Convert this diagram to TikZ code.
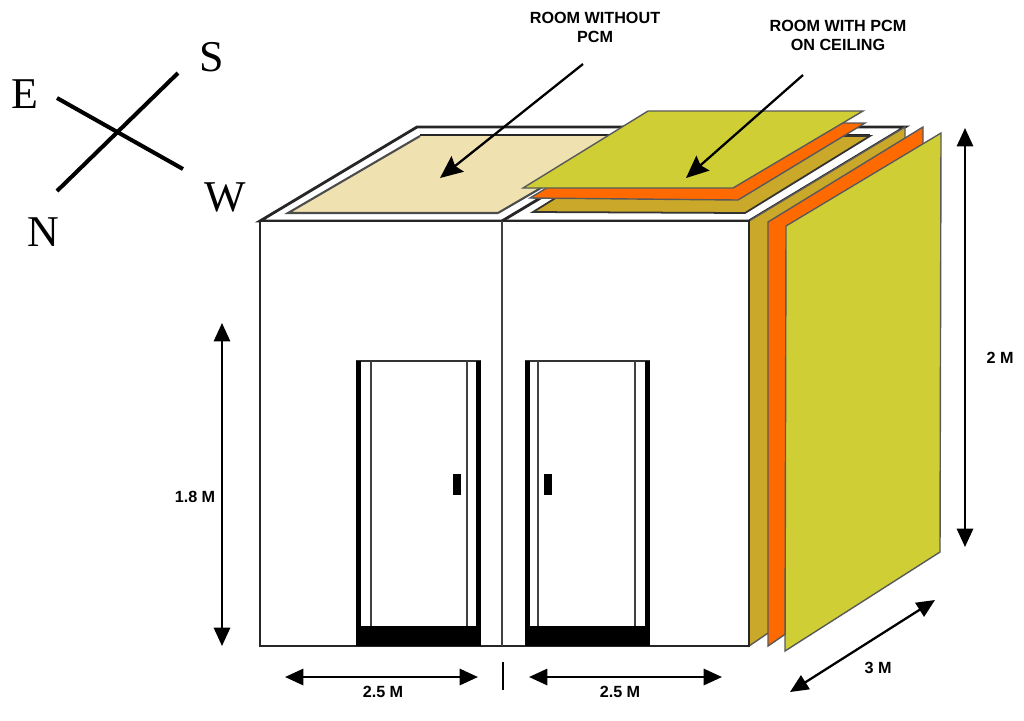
\documentclass[tikz,border=0pt]{standalone}
\usepackage{fontspec}
\usepackage{tikz}
\usepackage{xcolor}
\usetikzlibrary{arrows.meta}
\setmainfont{Liberation Serif}
\setsansfont{Liberation Sans}
\definecolor{roofTan}{HTML}{F0E2B0}
\definecolor{layerGreen}{HTML}{CFCF35}
\definecolor{layerOrange}{HTML}{FF6A00}
\definecolor{layerGold}{HTML}{C9A82A}
\tikzset{
    wall/.style={draw=black!85, line width=0.8pt, fill=white},
    layer/.style={draw=black!65, line width=0.4pt},
    dimline/.style={{Triangle[length=5.2pt,width=4.6pt]}-{Triangle[length=5.2pt,width=4.6pt]}, line width=0.65pt},
    leader/.style={-{Stealth[length=6.4pt,width=5.6pt,inset=0.9pt]}, line width=0.65pt},
    dimlabel/.style={font=\sffamily\bfseries\fontsize{4.6}{5}\selectfont, inner sep=0pt},
    roomlabel/.style={font=\sffamily\bfseries\fontsize{4.6}{5.4}\selectfont, inner sep=0pt, align=center},
    compasslabel/.style={font=\fontsize{12.5}{14}\selectfont, inner sep=0pt}
}
\begin{document}
\begin{tikzpicture}[x=0.01cm, y=-0.01cm]
    \useasboundingbox (0,0) rectangle (1024,720);

    % Compass
    \draw[line width=1.15pt] (57,98) -- (183,169);
    \draw[line width=1.15pt] (57,191) -- (178,73);
    \node[compasslabel] (labelE) at (25,94) {E};
    \node[compasslabel] (labelS) at (212,57) {S};
    \node[compasslabel] (labelW) at (225,197) {W};
    \node[compasslabel] (labelN) at (43,232) {N};

    % Roof outline and inner rims
    \draw[wall] (260,221) -- (417,127) -- (905,127) -- (749,221) -- cycle;
    \draw[wall] (502,221) -- (659,127);
    \draw[draw=black!85, line width=0.7pt] (420,135.5) -- (870,135.5);

    % Room without PCM
    \fill[roofTan] (288,213) -- (420,136) -- (630,136) -- (498,213) -- cycle;
    \draw[draw=black!70, line width=0.6pt] (498,213) -- (288,213) -- (420,136);
    \draw[draw=black!70, line width=0.6pt] (498,213) -- (630,136);

    % Side layers (east wall)
    \draw[layer, fill=layerGold] (749,221) -- (905,127) -- (905,540) -- (749,646) -- cycle;
    \draw[layer, fill=layerOrange] (768,222) -- (923,127) -- (923,540) -- (768,646) -- cycle;
    \draw[layer, fill=layerGreen] (786,226) -- (941,133) -- (940,552) -- (785,651) -- cycle;

    % Front wall and divider
    \draw[wall] (260,221) rectangle (749,646);
    \draw[draw=black!75, line width=0.7pt] (502,221) -- (502,646);

    % Ceiling layers
    \draw[layer, draw=black!80, line width=0.5pt, fill=layerGold] (533,212) -- (745,213) -- (870,136) -- (655,136) -- cycle;
    \draw[layer, fill=layerOrange] (530,198) -- (738,200) -- (865,123) -- (654,123) -- cycle;
    \draw[layer, fill=layerGreen] (523,188) -- (733,188) -- (863,111) -- (648,111) -- cycle;

    % Doors
    \foreach \doorx/\thinl/\thinr/\knobx in {356/371/467/453, 525/538/635/544} {
        \fill[white] (\doorx,361) rectangle ++(125,285);
        \draw[line width=0.5pt, draw=black!80] (\doorx,361) -- ++(125,0);
        \fill[black] (\doorx,361) rectangle ++(5,285);
        \fill[black] (\doorx+120,361) rectangle ++(5,285);
        \fill[black] (\doorx,626) rectangle ++(125,20);
        \draw[line width=0.5pt, draw=black!75] (\thinl,361) -- (\thinl,626);
        \draw[line width=0.5pt, draw=black!75] (\thinr,361) -- (\thinr,626);
        \fill[black] (\knobx,474) rectangle ++(8,21);
    }

    % Room labels with leaders
    \node[roomlabel] (roomPlain) at (595,27.5) {ROOM WITHOUT\\PCM};
    \node[roomlabel] (roomPcm) at (838,35.5) {ROOM WITH PCM\\ON CEILING};
    \coordinate (plainStart) at (583,64);
    \coordinate (plainEnd) at (440,178);
    \coordinate (pcmStart) at (803,75);
    \coordinate (pcmEnd) at (686,178);
    \draw[leader] (plainStart) -- (plainEnd);
    \draw[leader] (pcmStart) -- (pcmEnd);

    % Dimensions
    \coordinate (doorTop) at (222,323);
    \coordinate (doorBase) at (222,646);
    \coordinate (wallTop) at (965,128);
    \coordinate (wallBase) at (965,547);
    \coordinate (widthAl) at (285,677);
    \coordinate (widthAr) at (478,677);
    \coordinate (widthBl) at (529,677);
    \coordinate (widthBr) at (722,677);
    \coordinate (depthA) at (790,692);
    \coordinate (depthB) at (935,600);
    \coordinate (tickTop) at (503,662);
    \coordinate (tickBase) at (503,690);
    \draw[dimline] (doorTop) -- (doorBase);
    \draw[dimline] (wallTop) -- (wallBase);
    \draw[dimline] (widthAl) -- (widthAr);
    \draw[dimline] (widthBl) -- (widthBr);
    \draw[dimline] (depthA) -- (depthB);
    \draw[line width=0.5pt] (tickTop) -- (tickBase);
    \node[dimlabel] (dimDoor) at (195,497) {1.8 M};
    \node[dimlabel] (dimWall) at (1000,358) {2 M};
    \node[dimlabel] (dimWidthA) at (383,692) {2.5 M};
    \node[dimlabel] (dimWidthB) at (620,692) {2.5 M};
    \node[dimlabel] (dimDepth) at (878,668) {3 M};
\end{tikzpicture}
\end{document}
